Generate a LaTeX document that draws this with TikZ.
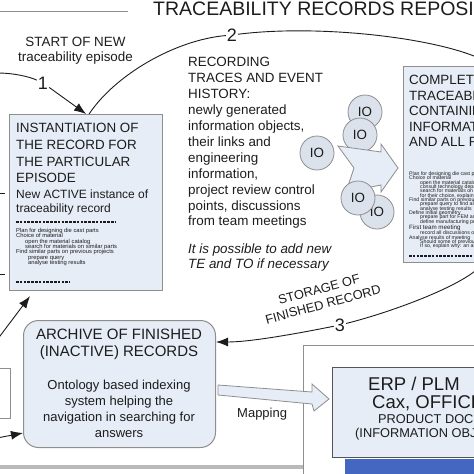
\documentclass[tikz,border=0pt]{standalone}
\usepackage{fontspec}
\setmainfont{Liberation Sans}
\usepackage{tikz}
\usetikzlibrary{arrows.meta, calc, positioning}
\usepackage{xcolor}

\definecolor{boxfill}{HTML}{E7EDF7}
\definecolor{boxline}{HTML}{8E8E8E}
\definecolor{iofill}{HTML}{DCE2EC}
\definecolor{barblue}{HTML}{4468C2}
\definecolor{ink}{HTML}{1C1C1C}

\newcommand{\fsTitle}{\fontsize{19.5}{22}\selectfont}
\newcommand{\fsHead}{\fontsize{13.4}{16.6}\selectfont}
\newcommand{\fsBody}{\fontsize{13.4}{15.9}\selectfont}
\newcommand{\fsSub}{\fontsize{12}{14.5}\selectfont}
\newcommand{\fsArch}{\fontsize{15}{17}\selectfont}
\newcommand{\fsBig}{\fontsize{18.5}{20}\selectfont}
\newcommand{\fsDoc}{\fontsize{12.8}{14}\selectfont}
\newcommand{\fsStep}{\fontsize{18}{20}\selectfont}
\newcommand{\fsTiny}{\fontsize{5.8}{5.33}\selectfont\lineskiplimit=-20pt\relax}
\newcommand{\fsTinier}{\fontsize{5.2}{4.35}\selectfont\lineskiplimit=-20pt\relax}

\begin{document}
\begin{tikzpicture}[x=1pt, y=-1pt, % 1 unit = 1 px, y runs downwards
    panel/.style={draw=boxline, fill=boxfill, line width=1.2pt, inner sep=0pt},
    io/.style={circle, draw=boxline, fill=iofill, line width=0.8pt, minimum size=34pt, inner sep=0pt, text=ink, font=\fontsize{13.4}{14}\selectfont},
    stepno/.style={inner sep=1pt, text=ink, font=\fsStep},
    txt/.style={inner sep=0pt, text=ink, align=left},
    linkline/.style={line width=0.9pt, draw=ink},
    linkarrow/.style={linkline, -{Latex[length=12pt, width=9pt]}},
    dashrow/.style={draw=ink, line width=1.6pt, dash pattern=on 2.6pt off 1.2pt}]
    \useasboundingbox (0,0) rectangle (474,474);
    \clip (0,0) rectangle (474,474);

    % Frame lines
    \draw[boxline, line width=0.8pt] (0,11) -- (128,11);
    \draw[gray!55, line width=4pt] (0,467) -- (303,467);
    \draw[boxline, line width=0.8pt] (303,520) -- (303,345) -- (520,345);
    \draw[boxline, line width=0.8pt] (-5,368) rectangle (10,418);
    \draw[linkline] (0,193) -- (5,193);
    \draw[linkline] (0,274) -- (5,274);

    \node[txt, anchor=base west, font=\fsTitle] (title) at (153,15.5) {TRACEABILITY RECORDS REPOSITORY};
    \node[txt, align=center, anchor=north, font=\fontsize{13.4}{14.5}\selectfont] (start) at (75.5,37.4) {START OF NEW\\traceability episode};

    % Active record
    \node[panel, anchor=north west, minimum width=153pt, minimum height=176pt] (inst) at (9,114) {};
    \node[txt, anchor=north west, font=\fsHead] (insthead) at (16,123.4) {INSTANTIATION OF\\THE RECORD FOR\\THE PARTICULAR\\EPISODE};
    \node[txt, anchor=north west, font=\fsSub] (instsub) at (16,189.2) {New ACTIVE instance of\\traceability record};
    \draw[dashrow] (16,222) -- (116,222);
    \node[txt, anchor=north west, font=\fsTiny] (instlog) at (16,228) {Plan for designing die cast parts\\Choice of material\\\hspace*{9pt}open the material catalog\\\hspace*{9pt}search for materials on similar parts\\Find similar parts on previous projects\\\hspace*{12pt}prepare query\\\hspace*{12pt}analyse testing results};
    \draw[dashrow] (16,282) -- (70,282);

    % Recording
    \node[txt, anchor=north west, font=\fsBody] (rectxt) at (188,57.4) {RECORDING\\TRACES AND EVENT\\HISTORY:\\newly generated\\information objects,\\their links and\\engineering\\information,\\project review control\\points, discussions\\from team meetings};
    \node[txt, anchor=north west, font=\fontsize{13.4}{15}\selectfont\itshape] (addtxt) at (188,244) {It is possible to add new\\TE and TO if necessary};

    % Completed record
    \node[panel, anchor=north west, minimum width=180pt, minimum height=196pt] (done) at (403,66) {};
    \node[txt, anchor=north west, font=\fontsize{13.4}{15.5}\selectfont] (donehead) at (409,75.4) {COMPLETED\\TRACEABILITY RECORD\\CONTAINING ALL\\INFORMATION\\AND ALL RELATIONS};
    \node[txt, anchor=north west, font=\fsTinier] (donelog) at (409,171.5) {Plan for designing die cast parts\\Choice of material\\\hspace*{11pt}open the material catalog\\\hspace*{11pt}consult technology department\\\hspace*{11pt}search for materials on similar parts\\\hspace*{11pt}for their choice, explain why\\Find similar parts on previous projects\\\hspace*{11pt}prepare query to find all similar parts\\\hspace*{11pt}analyse testing results\\Define initial geometry\\\hspace*{11pt}prepare part for FEM analysis\\\hspace*{11pt}define manufacturing process};
    \node[txt, anchor=base west, font=\fontsize{6.2}{6.5}\selectfont] (donemeet) at (409,229) {First team meeting};
    \node[txt, anchor=north west, font=\fsTinier] (donelog2) at (409,230.7) {\hspace*{11pt}record all discussions of the team\\Analyse results of meeting\\\hspace*{11pt}Should some of previous decisions be changed\\\hspace*{11pt}If so, explain why: an alternative};
    \draw[dashrow] (409,256) -- (480,256);

    % Information objects
    \node[io] (io1) at (365,112) {IO};
    \node[io] (io2) at (360,135) {IO};
    \node[io] (io3) at (317,153) {IO};
    \filldraw[draw=boxline, fill=boxfill, line width=0.8pt] (338,146) -- (381,152) -- (381,144) -- (398,168) -- (381,192) -- (381,185) -- (346,192) -- (354,168) -- cycle;
    \node[io] (io5) at (377,212) {IO};
    \node[io] (io4) at (358,198) {IO};

    % Archive
    \node[panel, rounded corners=15pt, line width=1pt, anchor=north west, minimum width=192pt, minimum height=127pt] (archive) at (23,320) {};
    \node[txt, align=center, anchor=north, font=\fsArch] (archhead) at (119,329.3) {ARCHIVE OF FINISHED\\(INACTIVE) RECORDS};
    \node[txt, align=center, anchor=north, font=\fontsize{13}{16.2}\selectfont] (archbody) at (119,379.5) {Ontology based indexing\\system helping the\\navigation in searching for\\answers};

    % Product documents
    \fill[barblue] (345,459) rectangle (520,480);
    \node[draw=ink!75, fill=boxfill, line width=0.9pt, anchor=north west, minimum width=200pt, minimum height=90pt] (erp) at (332,367) {};
    \node[txt, anchor=base west, font=\fsBig] (erp1) at (368,390) {ERP / PLM};
    \node[txt, anchor=base west, font=\fsBig] (erp2) at (372,408) {Cax, OFFICE};
    \node[txt, anchor=base west, font=\fsDoc] (erp3) at (378,423) {PRODUCT DOCUMENTATION};
    \node[txt, anchor=base west, font=\fsDoc] (erp4) at (355,437) {(INFORMATION OBJECTS)};

    % Mapping arrow
    \filldraw[draw=boxline, fill=boxfill, line width=0.8pt] (218,385) -- (312,392) -- (312,384) -- (329,399) -- (314,411) -- (312,404) -- (218,395) -- cycle;
    \node[txt, anchor=base west, font=\fontsize{13}{14}\selectfont] (maplbl) at (237,417) {Mapping};

    % Step 1
    \coordinate (c1start) at (-3,73);
    \node[stepno] (n1) at (43,83) {1};
    \draw[linkline] (c1start) .. controls (15,73) and (30,77) .. (n1);
    \draw[linkarrow] (n1) -- (inst.north);

    % Step 2
    \node[stepno] (n2) at (232,35) {2};
    \coordinate (c2end) at ([xshift=92pt]done.north west);
    \draw[linkline] ([xshift=3pt]inst.north) .. controls (115,75) and (175,40) .. (n2);
    \draw[linkarrow] (n2) .. controls (320,24) and (440,38) .. (c2end);

    % Step 3
    \node[txt, align=center, rotate=15, font=\fontsize{12.8}{15.5}\selectfont] (storetxt) at (321,297) {STORAGE OF\\FINISHED RECORD};
    \node[stepno] (n3) at (340,325) {3};
    \coordinate (c3start) at ([xshift=80pt]done.south west);
    \draw[linkline] (c3start) .. controls (468,284) and (392,312) .. (n3);
    \draw[linkarrow] (n3) .. controls (295,334) and (250,342) .. ([yshift=-22pt]archive.north east);

    % Arrows from the left
    \coordinate (c4start) at (-3,438);
    \draw[linkarrow] (c4start) -- ([yshift=15pt]archive.south west);
    \coordinate (c5start) at (-3,340);
    \draw[linkarrow] (c5start) -- ([shift={(21pt,-5pt)}]inst.south west);

\end{tikzpicture}
\end{document}
